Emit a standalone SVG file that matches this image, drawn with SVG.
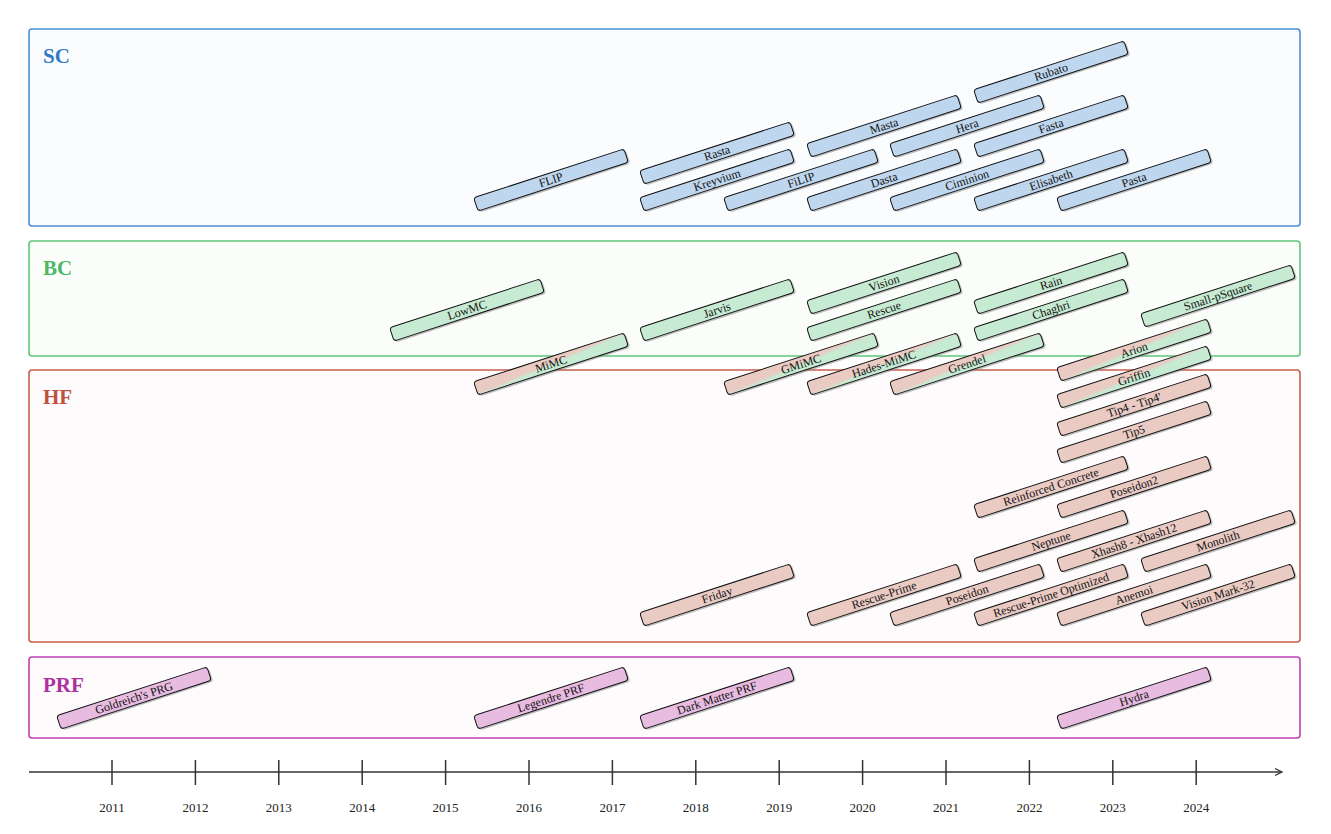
<svg xmlns="http://www.w3.org/2000/svg" width="1331" height="834" viewBox="0 0 1331 834">
<style>
text{font-family:"Liberation Serif","DejaVu Serif",serif;}
.lbl{font-size:12px;text-anchor:middle;fill:#111;}
.sh{fill:#888;opacity:.55;}
.b{stroke:#111;stroke-width:1;}
.sc{fill:#bfd7ee}.bc{fill:#c6ead2}.hf{fill:#eacbc4}.prf{fill:#e8bce0}.mx{fill:url(#mix)}
.ttl{font-size:21px;font-weight:bold;}
.tick{stroke:#333;stroke-width:1.5}
.yr{font-size:13px;text-anchor:middle;fill:#222}
</style>
<defs>
<linearGradient id="mix" x1="0" y1="0" x2="1" y2="1">
<stop offset="0.44" stop-color="#eacbc4"/><stop offset="0.56" stop-color="#c6ead2"/>
</linearGradient>
<marker id="arr" markerWidth="10" markerHeight="10" refX="8" refY="5" orient="auto" markerUnits="userSpaceOnUse">
<path d="M1,1.5 L8,5 L1,8.5" fill="none" stroke="#333" stroke-width="1.3"/>
</marker>
<g id="shape"><rect class="sh" x="-77.5" y="-5" width="158" height="14" rx="3"/></g>
</defs>
<g id="frames">
<rect x="29" y="29" width="1271" height="197" rx="3" fill="#fbfcfe" stroke="#4a8fd6" stroke-width="1.6"/>
<text class="ttl" x="43" y="63" fill="#2f79c8">SC</text>
<rect x="29" y="241" width="1271" height="115" rx="3" fill="#fbfdfb" stroke="#5fc67a" stroke-width="1.6"/>
<text class="ttl" x="43" y="275" fill="#4cb866">BC</text>
<rect x="29" y="370" width="1271" height="272" rx="3" fill="#fdfbfb" stroke="#c8604f" stroke-width="1.6"/>
<text class="ttl" x="43" y="404" fill="#c0503f">HF</text>
<rect x="29" y="657" width="1271" height="81" rx="3" fill="#fdfbfc" stroke="#c040b0" stroke-width="1.6"/>
<text class="ttl" x="43" y="692" fill="#b0309f">PRF</text>
</g>
<g id="axis">
<line x1="29" y1="772" x2="1282" y2="772" stroke="#333" stroke-width="1.5" marker-end="url(#arr)"/>
<g class="tick">
<line x1="112" y1="760" x2="112" y2="785"/><line x1="195.4" y1="760" x2="195.4" y2="785"/><line x1="278.8" y1="760" x2="278.8" y2="785"/><line x1="362.2" y1="760" x2="362.2" y2="785"/><line x1="445.6" y1="760" x2="445.6" y2="785"/><line x1="529" y1="760" x2="529" y2="785"/><line x1="612.4" y1="760" x2="612.4" y2="785"/><line x1="695.8" y1="760" x2="695.8" y2="785"/><line x1="779.2" y1="760" x2="779.2" y2="785"/><line x1="862.6" y1="760" x2="862.6" y2="785"/><line x1="946" y1="760" x2="946" y2="785"/><line x1="1029.4" y1="760" x2="1029.4" y2="785"/><line x1="1112.8" y1="760" x2="1112.8" y2="785"/><line x1="1196.2" y1="760" x2="1196.2" y2="785"/>
</g>
<text class="yr" x="112" y="812">2011</text><text class="yr" x="195.4" y="812">2012</text><text class="yr" x="278.8" y="812">2013</text><text class="yr" x="362.2" y="812">2014</text><text class="yr" x="445.6" y="812">2015</text><text class="yr" x="529" y="812">2016</text><text class="yr" x="612.4" y="812">2017</text><text class="yr" x="695.8" y="812">2018</text><text class="yr" x="779.2" y="812">2019</text><text class="yr" x="862.6" y="812">2020</text><text class="yr" x="946" y="812">2021</text><text class="yr" x="1029.4" y="812">2022</text><text class="yr" x="1112.8" y="812">2023</text><text class="yr" x="1196.2" y="812">2024</text>
</g>
<g id="connectors"></g>
<!-- SC -->
<g id="flip" transform="translate(551,180) rotate(-18)"><use href="#shape"/><rect class="b sc" x="-79" y="-7" width="158" height="14" rx="3"/><text class="lbl" y="4">FLIP</text></g>
<g id="rasta" transform="translate(717,153) rotate(-18)"><use href="#shape"/><rect class="b sc" x="-79" y="-7" width="158" height="14" rx="3"/><text class="lbl" y="4">Rasta</text></g>
<g id="kreyvium" transform="translate(717,180) rotate(-18)"><use href="#shape"/><rect class="b sc" x="-79" y="-7" width="158" height="14" rx="3"/><text class="lbl" y="4">Kreyvium</text></g>
<g id="filip" transform="translate(801,180) rotate(-18)"><use href="#shape"/><rect class="b sc" x="-79" y="-7" width="158" height="14" rx="3"/><text class="lbl" y="4">FiLIP</text></g>
<g id="masta" transform="translate(884,126) rotate(-18)"><use href="#shape"/><rect class="b sc" x="-79" y="-7" width="158" height="14" rx="3"/><text class="lbl" y="4">Masta</text></g>
<g id="dasta" transform="translate(884,180) rotate(-18)"><use href="#shape"/><rect class="b sc" x="-79" y="-7" width="158" height="14" rx="3"/><text class="lbl" y="4">Dasta</text></g>
<g id="hera" transform="translate(967,126) rotate(-18)"><use href="#shape"/><rect class="b sc" x="-79" y="-7" width="158" height="14" rx="3"/><text class="lbl" y="4">Hera</text></g>
<g id="ciminion" transform="translate(967,180) rotate(-18)"><use href="#shape"/><rect class="b sc" x="-79" y="-7" width="158" height="14" rx="3"/><text class="lbl" y="4">Ciminion</text></g>
<g id="rubato" transform="translate(1051,72) rotate(-18)"><use href="#shape"/><rect class="b sc" x="-79" y="-7" width="158" height="14" rx="3"/><text class="lbl" y="4">Rubato</text></g>
<g id="fasta" transform="translate(1051,126) rotate(-18)"><use href="#shape"/><rect class="b sc" x="-79" y="-7" width="158" height="14" rx="3"/><text class="lbl" y="4">Fasta</text></g>
<g id="elisabeth" transform="translate(1051,180) rotate(-18)"><use href="#shape"/><rect class="b sc" x="-79" y="-7" width="158" height="14" rx="3"/><text class="lbl" y="4">Elisabeth</text></g>
<g id="pasta" transform="translate(1134,180) rotate(-18)"><use href="#shape"/><rect class="b sc" x="-79" y="-7" width="158" height="14" rx="3"/><text class="lbl" y="4">Pasta</text></g>
<!-- BC -->
<g id="lowmc" transform="translate(467,310) rotate(-18)"><use href="#shape"/><rect class="b bc" x="-79" y="-7" width="158" height="14" rx="3"/><text class="lbl" y="4">LowMC</text></g>
<g id="jarvis" transform="translate(717,310) rotate(-18)"><use href="#shape"/><rect class="b bc" x="-79" y="-7" width="158" height="14" rx="3"/><text class="lbl" y="4">Jarvis</text></g>
<g id="vision" transform="translate(884,283) rotate(-18)"><use href="#shape"/><rect class="b bc" x="-79" y="-7" width="158" height="14" rx="3"/><text class="lbl" y="4">Vision</text></g>
<g id="rescue" transform="translate(884,310) rotate(-18)"><use href="#shape"/><rect class="b bc" x="-79" y="-7" width="158" height="14" rx="3"/><text class="lbl" y="4">Rescue</text></g>
<g id="rain" transform="translate(1051,283) rotate(-18)"><use href="#shape"/><rect class="b bc" x="-79" y="-7" width="158" height="14" rx="3"/><text class="lbl" y="4">Rain</text></g>
<g id="chaghri" transform="translate(1051,310) rotate(-18)"><use href="#shape"/><rect class="b bc" x="-79" y="-7" width="158" height="14" rx="3"/><text class="lbl" y="4">Chaghri</text></g>
<g id="smallpsquare" transform="translate(1218,296) rotate(-18)"><use href="#shape"/><rect class="b bc" x="-79" y="-7" width="158" height="14" rx="3"/><text class="lbl" y="4">Small-pSquare</text></g>
<g id="mimc" transform="translate(551,364) rotate(-18)"><use href="#shape"/><rect class="b mx" x="-79" y="-7" width="158" height="14" rx="3"/><text class="lbl" y="4">MiMC</text></g>
<g id="gmimc" transform="translate(801,364) rotate(-18)"><use href="#shape"/><rect class="b mx" x="-79" y="-7" width="158" height="14" rx="3"/><text class="lbl" y="4">GMiMC</text></g>
<g id="hadesmimc" transform="translate(884,364) rotate(-18)"><use href="#shape"/><rect class="b mx" x="-79" y="-7" width="158" height="14" rx="3"/><text class="lbl" y="4">Hades-MiMC</text></g>
<g id="grendel" transform="translate(967,364) rotate(-18)"><use href="#shape"/><rect class="b mx" x="-79" y="-7" width="158" height="14" rx="3"/><text class="lbl" y="4">Grendel</text></g>
<g id="arion" transform="translate(1134,350) rotate(-18)"><use href="#shape"/><rect class="b mx" x="-79" y="-7" width="158" height="14" rx="3"/><text class="lbl" y="4">Arion</text></g>
<g id="griffin" transform="translate(1134,377) rotate(-18)"><use href="#shape"/><rect class="b mx" x="-79" y="-7" width="158" height="14" rx="3"/><text class="lbl" y="4">Griffin</text></g>
<!-- HF -->
<g id="tip4" transform="translate(1134,405) rotate(-18)"><use href="#shape"/><rect class="b hf" x="-79" y="-7" width="158" height="14" rx="3"/><text class="lbl" y="4">Tip4 - Tip4'</text></g>
<g id="tip5" transform="translate(1134,432) rotate(-18)"><use href="#shape"/><rect class="b hf" x="-79" y="-7" width="158" height="14" rx="3"/><text class="lbl" y="4">Tip5</text></g>
<g id="reinforced" transform="translate(1051,487) rotate(-18)"><use href="#shape"/><rect class="b hf" x="-79" y="-7" width="158" height="14" rx="3"/><text class="lbl" y="4">Reinforced Concrete</text></g>
<g id="poseidon2" transform="translate(1134,487) rotate(-18)"><use href="#shape"/><rect class="b hf" x="-79" y="-7" width="158" height="14" rx="3"/><text class="lbl" y="4">Poseidon2</text></g>
<g id="neptune" transform="translate(1051,541) rotate(-18)"><use href="#shape"/><rect class="b hf" x="-79" y="-7" width="158" height="14" rx="3"/><text class="lbl" y="4">Neptune</text></g>
<g id="xhash" transform="translate(1134,541) rotate(-18)"><use href="#shape"/><rect class="b hf" x="-79" y="-7" width="158" height="14" rx="3"/><text class="lbl" y="4">Xhash8 - Xhash12</text></g>
<g id="monolith" transform="translate(1218,541) rotate(-18)"><use href="#shape"/><rect class="b hf" x="-79" y="-7" width="158" height="14" rx="3"/><text class="lbl" y="4">Monolith</text></g>
<g id="friday" transform="translate(717,595) rotate(-18)"><use href="#shape"/><rect class="b hf" x="-79" y="-7" width="158" height="14" rx="3"/><text class="lbl" y="4">Friday</text></g>
<g id="rescueprime" transform="translate(884,595) rotate(-18)"><use href="#shape"/><rect class="b hf" x="-79" y="-7" width="158" height="14" rx="3"/><text class="lbl" y="4">Rescue-Prime</text></g>
<g id="poseidon" transform="translate(967,595) rotate(-18)"><use href="#shape"/><rect class="b hf" x="-79" y="-7" width="158" height="14" rx="3"/><text class="lbl" y="4">Poseidon</text></g>
<g id="rpo" transform="translate(1051,595) rotate(-18)"><use href="#shape"/><rect class="b hf" x="-79" y="-7" width="158" height="14" rx="3"/><text class="lbl" y="4">Rescue-Prime Optimized</text></g>
<g id="anemoi" transform="translate(1134,595) rotate(-18)"><use href="#shape"/><rect class="b hf" x="-79" y="-7" width="158" height="14" rx="3"/><text class="lbl" y="4">Anemoi</text></g>
<g id="visionmark32" transform="translate(1218,595) rotate(-18)"><use href="#shape"/><rect class="b hf" x="-79" y="-7" width="158" height="14" rx="3"/><text class="lbl" y="4">Vision Mark-32</text></g>
<!-- PRF -->
<g id="goldreich" transform="translate(134,698) rotate(-18)"><use href="#shape"/><rect class="b prf" x="-79" y="-7" width="158" height="14" rx="3"/><text class="lbl" y="4">Goldreich's PRG</text></g>
<g id="legendre" transform="translate(551,698) rotate(-18)"><use href="#shape"/><rect class="b prf" x="-79" y="-7" width="158" height="14" rx="3"/><text class="lbl" y="4">Legendre PRF</text></g>
<g id="darkmatter" transform="translate(717,698) rotate(-18)"><use href="#shape"/><rect class="b prf" x="-79" y="-7" width="158" height="14" rx="3"/><text class="lbl" y="4">Dark Matter PRF</text></g>
<g id="hydra" transform="translate(1134,698) rotate(-18)"><use href="#shape"/><rect class="b prf" x="-79" y="-7" width="158" height="14" rx="3"/><text class="lbl" y="4">Hydra</text></g>
</svg>
